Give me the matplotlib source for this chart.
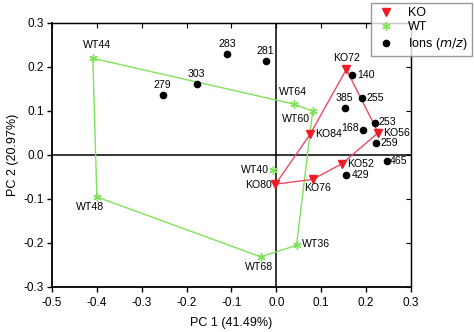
import matplotlib
matplotlib.use("Agg")
import matplotlib.pyplot as plt
from matplotlib.lines import Line2D

plt.rcParams['font.family'] = ['Liberation Sans', 'DejaVu Sans']

# sample scores (PC1, PC2)
ko_names = ['KO72', 'KO56', 'KO52', 'KO76', 'KO80', 'KO84']
ko_x = [0.156, 0.227, 0.147, 0.081, -0.002, 0.075]
ko_y = [0.194, 0.050, -0.020, -0.056, -0.067, 0.046]

wt_names = ['WT44', 'WT64', 'WT60', 'WT36', 'WT68', 'WT48', 'WT40']
wt_x = [-0.409, 0.039, 0.081, 0.045, -0.035, -0.400, -0.008]
wt_y = [0.219, 0.115, 0.099, -0.206, -0.232, -0.096, -0.035]
wt_hull = 6  # first six points form the outline

# ion loadings
ion_names = ['279', '303', '283', '281', '140', '255', '385', '168',
             '253', '259', '465', '429']
ion_x = [-0.252, -0.177, -0.109, -0.022, 0.169, 0.190, 0.153, 0.193,
         0.219, 0.221, 0.246, 0.156]
ion_y = [0.135, 0.160, 0.228, 0.212, 0.181, 0.129, 0.106, 0.056,
         0.071, 0.027, -0.015, -0.047]

xticks = [-0.5, -0.4, -0.3, -0.2, -0.1, 0.0, 0.1, 0.2, 0.3]
yticks = [-0.3, -0.2, -0.1, 0.0, 0.1, 0.2, 0.3]

# label placement: (dx, dy in pixels, ha, va)
pos = {
    'WT44': (4, 8, 'center', 'bottom'), 'WT64': (-1, 7, 'center', 'bottom'),
    'WT60': (-3, -3, 'right', 'top'), 'WT36': (5, 1, 'left', 'center'),
    'WT68': (-2, -5, 'center', 'top'), 'WT48': (-7, -5, 'center', 'top'),
    'WT40': (-4, 0, 'right', 'center'),
    'KO72': (0, 6, 'center', 'bottom'), 'KO56': (5, 0, 'left', 'center'),
    'KO52': (5, 0, 'left', 'center'), 'KO76': (5, -4, 'center', 'top'),
    'KO80': (-4, -1, 'right', 'center'), 'KO84': (5, 0, 'left', 'center'),
    '279': (-1, 5, 'center', 'bottom'), '303': (-1, 5, 'center', 'bottom'),
    '283': (0, 5, 'center', 'bottom'), '281': (-1, 5, 'center', 'bottom'),
    '140': (5, 0, 'left', 'center'), '255': (5, 0, 'left', 'center'),
    '385': (-1, 5, 'center', 'bottom'), '168': (-4, 2, 'right', 'center'),
    '253': (4, 1, 'left', 'center'), '259': (5, 0, 'left', 'center'),
    '465': (3, 0, 'left', 'center'), '429': (5, 0, 'left', 'center'),
}

red = '#ee1c25'
red_line = '#ea4a64'
green = '#7fe35a'

fig = plt.figure(figsize=(4.74, 3.32), dpi=100)
ax = fig.add_axes([0.1097, 0.1364, 0.7573, 0.7952])

ax.axhline(0, color='black', lw=1.1, zorder=1)
ax.axvline(0, color='black', lw=1.1, zorder=1)

ax.plot(wt_x[:wt_hull] + wt_x[:1], wt_y[:wt_hull] + wt_y[:1],
        color=green, lw=1.0, zorder=2)
ax.plot(ko_x + ko_x[:1], ko_y + ko_y[:1], color=red_line, lw=1.0, zorder=2)

ax.plot(ion_x, ion_y, 'o', color='black', ms=4.5, ls='none', zorder=3)
ax.plot(wt_x, wt_y, marker=(6, 2, 0), color=green, ms=6, mew=1.0,
        ls='none', zorder=3)
ax.plot(ko_x, ko_y, 'v', color=red, ms=6, ls='none', zorder=4)

for names, xs, ys in [(wt_names, wt_x, wt_y), (ko_names, ko_x, ko_y),
                      (ion_names, ion_x, ion_y)]:
    for n, x, y in zip(names, xs, ys):
        dx, dy, ha, va = pos[n]
        ax.annotate(n, (x, y), xytext=(dx, dy), textcoords='offset pixels',
                    ha=ha, va=va, fontsize=7.6, zorder=5)

ax.set_xlim(-0.5, 0.3)
ax.set_ylim(-0.3, 0.3)
ax.set_xticks(xticks)
ax.set_yticks(yticks)
ax.set_xticklabels(['%.1f' % t for t in xticks])
ax.set_yticklabels(['%.1f' % t for t in yticks])
ax.tick_params(labelsize=8.5, length=3.5, width=1.0, direction='out', pad=2.5)
ax.tick_params(axis='x', pad=4)
for s in ax.spines.values():
    s.set_linewidth(1.0)
ax.spines['left'].set_linewidth(1.3)
ax.spines['bottom'].set_linewidth(1.3)

top = ax.secondary_xaxis('top')
top.set_xticks(xticks)
top.tick_params(direction='in', length=3.5, labeltop=False)
right = ax.secondary_yaxis('right')
right.set_yticks(yticks)
right.tick_params(direction='in', length=3.5, labelright=False)

ax.set_xlabel('PC 1 (41.49%)', fontsize=9, labelpad=6)
ax.set_ylabel('PC 2 (20.97%)', fontsize=9, labelpad=3)

handles = [
    Line2D([], [], marker='v', color=red, ls='none', ms=6),
    Line2D([], [], marker=(6, 2, 0), color=green, ls='none', ms=6),
    Line2D([], [], marker='o', color='black', ls='none', ms=4.5),
]
leg = fig.legend(handles, ['KO', 'WT', 'Ions ($\\it{m/z}$)'],
                 loc='upper right', bbox_to_anchor=(472 / 474, 1 - 2.5 / 332),
                 fontsize=9, frameon=True, fancybox=False, edgecolor='#808080',
                 handletextpad=0.9, borderpad=0.35, labelspacing=0.2,
                 handlelength=1.7, borderaxespad=0)
leg.get_frame().set_linewidth(1.0)

fig.savefig('out.png', dpi=100)
